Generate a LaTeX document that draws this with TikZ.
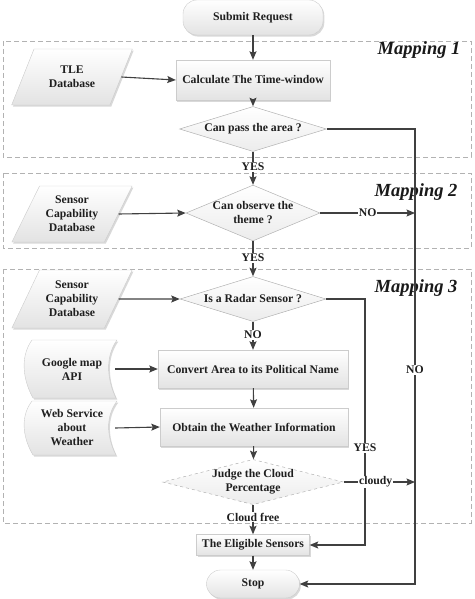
\documentclass[tikz,border=0pt]{standalone}
\usepackage{fontspec}
\setmainfont{Liberation Serif}
\usetikzlibrary{shapes.geometric,shadows,arrows.meta}
\begin{document}
\begin{tikzpicture}[x=1pt,y=-1pt,
  txt/.style={font=\bfseries\fontsize{11.7}{14}\selectfont, align=center, text=black!88},
  shd/.style={drop shadow={shadow xshift=1.3pt, shadow yshift=-1.6pt, opacity=0.3}},
  grad/.style={top color=white, bottom color=gray!22, draw=gray!40, line width=0.4pt},
  procbox/.style={txt, rectangle, grad, shd, inner sep=2pt},
  termbox/.style={txt, rectangle, rounded corners=14pt, grad, shd},
  decision/.style={txt, diamond, inner sep=0pt, top color=white, bottom color=gray!15, draw=gray!60, line width=0.5pt},
  dbbox/.style={txt, trapezium, trapezium left angle=58, trapezium right angle=122,
     trapezium stretches=true, grad, shd, inner sep=0pt},
  tapetxt/.style={txt, inner sep=0pt},
  tapeshape/.style={grad, shd},
  frame/.style={draw=gray!60, dash pattern=on 5pt off 3pt, line width=0.7pt},
  maplbl/.style={font=\bfseries\itshape\fontsize{18.5}{18.5}\selectfont, anchor=east, text=black!90},
  lbl/.style={txt, fill=white, inner sep=1pt},
  conn/.style={draw=black!75, line width=1.1pt},
  arr/.style={conn, -{Stealth[length=8.5pt,width=7pt,inset=1.5pt]}}
]
\useasboundingbox (0,0) rectangle (474,599);

% mapping frames
\draw[frame] (3,41) rectangle (471,157);
\draw[frame] (3,173) rectangle (471,248);
\draw[frame] (3,269) rectangle (471,523);
\node[maplbl] (m1) at (464,50) {Mapping 1};
\node[maplbl] (m2) at (461,192) {Mapping 2};
\node[maplbl] (m3) at (461,288) {Mapping 3};

% rails
\coordinate (rail) at (415,0);
\coordinate (yrail) at (365,0);

% tape outlines
\path[tapeshape] (32,340) -- (117,340) .. controls (104,358) and (108,382) .. (116,398)
   -- (33,398) .. controls (24,382) and (19,358) .. (32,340) -- cycle;
\path[tapeshape] (32,401) -- (117,401) .. controls (104,418) and (108,440) .. (116,455)
   -- (33,455) .. controls (24,440) and (19,418) .. (32,401) -- cycle;

% nodes
\node[termbox, minimum width=140pt, minimum height=35pt] (submit) at (253,17.5) {Submit Request};
\node[procbox, minimum width=154pt, minimum height=40pt] (calc) at (253,80) {Calculate The Time-window};
\node[decision, aspect=3.5, minimum width=147pt, minimum height=45pt] (pass) at (253,129) {Can pass the area ?};
\node[decision, aspect=2.4, minimum width=133pt, minimum height=55pt] (observe) at (253,213) {Can observe the\\theme ?};
\node[decision, aspect=3.4, minimum width=146pt, minimum height=45pt] (radar) at (253,299) {Is a Radar Sensor ?};
\node[procbox, minimum width=190pt, minimum height=38pt] (convert) at (253,369) {Convert Area to its Political Name};
\node[procbox, minimum width=188pt, minimum height=38pt] (obtain) at (254,427) {Obtain the Weather Information};
\node[decision, aspect=4, minimum width=174pt, minimum height=43pt, dashed] (judge) at (253,482) {Judge the Cloud\\Percentage};
\node[procbox, minimum width=113pt, minimum height=21pt] (elig) at (253,545) {The Eligible Sensors};
\node[termbox, minimum width=93pt, minimum height=28pt] (stop) at (253,584) {Stop};

\node[dbbox, minimum width=121pt, minimum height=56pt] (tle) at (72,77) {TLE\\Database};
\node[dbbox, minimum width=121pt, minimum height=56pt] (sens1) at (72,214) {Sensor\\Capability\\Database};
\node[dbbox, minimum width=121pt, minimum height=58pt] (sens2) at (72,299) {Sensor\\Capability\\Database};
\node[tapetxt, minimum width=86pt, minimum height=50pt] (google) at (72,369) {Google map\\API};
\node[tapetxt, minimum width=86pt, minimum height=50pt] (web) at (72,428) {Web Service\\about\\Weather};

% connectors
\draw[arr] (submit) -- (calc);
\draw[arr] (tle.east) -- (calc.west);
\draw[arr] (calc) -- (pass);
\draw[arr] (pass.south) -- (observe.north);
\node[lbl] (yes1) at (253,167) {YES};
\draw[arr] (pass.east) -- (pass.east -| rail) |- (stop.east);
\node[lbl] (no1) at (415,370) {NO};
\draw[arr] (sens1.east) -- (observe.west);
\draw[arr] (observe.east) -- node[lbl] (no2) {NO} (observe.east -| rail);
\draw[arr] (observe.south) -- (radar.north);
\node[lbl] (yes2) at (253,258) {YES};
\draw[arr] (sens2.east) -- (radar.west);
\draw[arr] (radar.east) -- (radar.east -| yrail) |- (elig.east);
\node[lbl] (yes3) at (365,448) {YES};
\draw[arr] (radar.south) -- (convert.north);
\node[lbl] (no3) at (253,335) {NO};
\draw[arr] (google.east) -- (convert.west);
\draw[arr] (convert) -- (obtain);
\draw[arr] (web.east) -- (obtain.west);
\draw[arr] (obtain) -- (judge);
\draw[arr] (judge.east) -- node[lbl, pos=0.45] (cloudy) {cloudy} (judge.east -| rail);
\draw[arr] (judge.south) -- (elig.north);
\node[lbl] (cfree) at (253,517) {Cloud free};
\draw[arr] (elig) -- (stop);
\end{tikzpicture}
\end{document}
